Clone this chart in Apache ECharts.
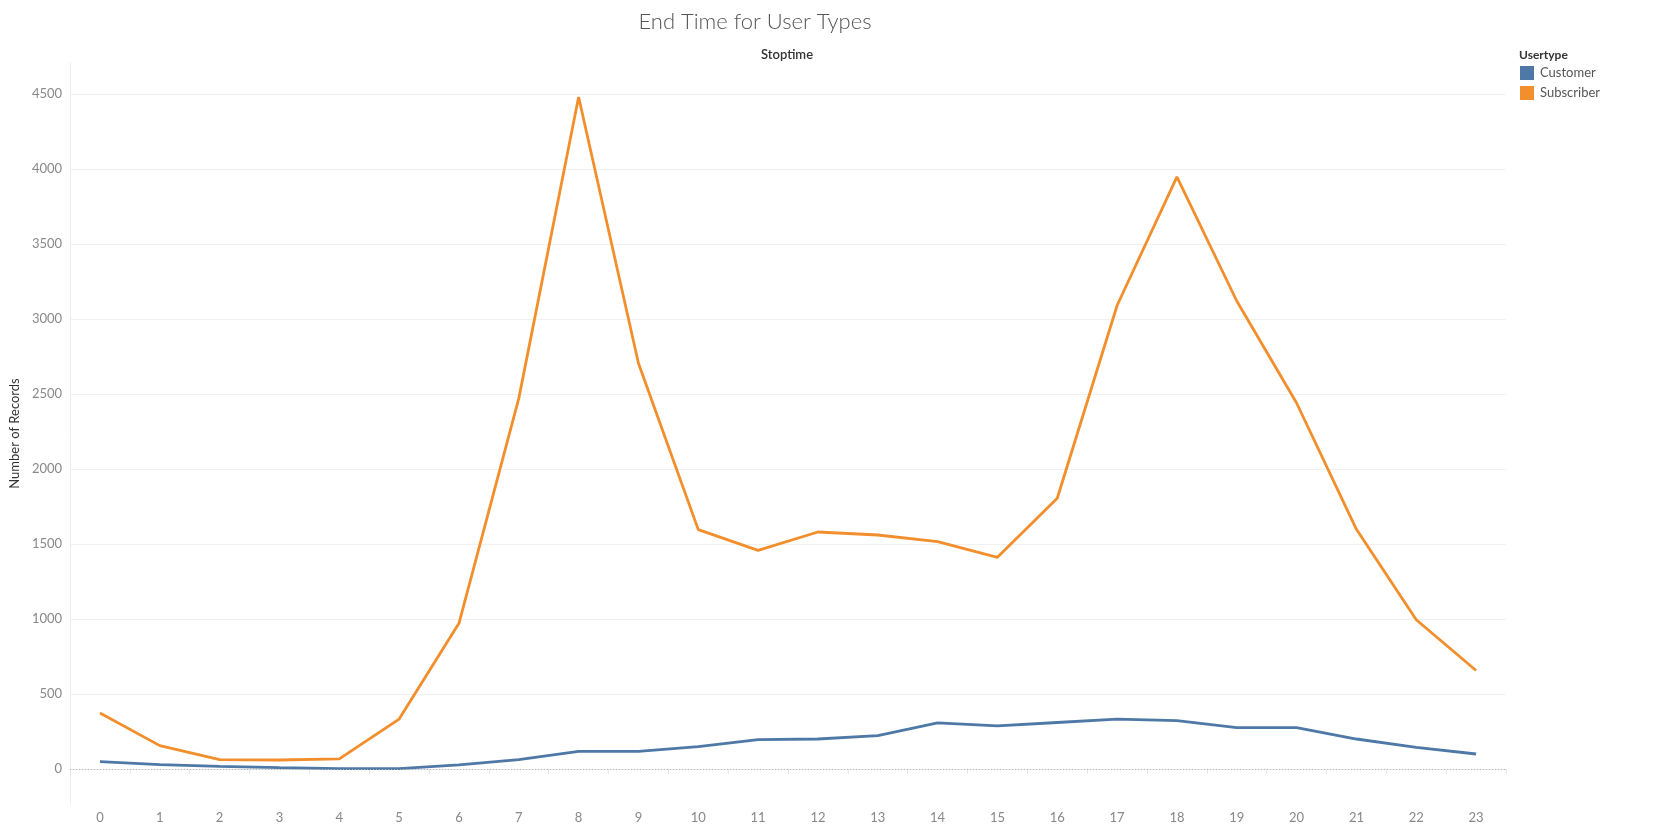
<!DOCTYPE html>
<html>
<head>
<meta charset="utf-8">
<script src="https://cdn.jsdelivr.net/npm/echarts@6/dist/echarts.min.js"></script>
<style>
html,body{margin:0;padding:0;background:#fff;}
#chart{width:1657px;height:826px;}
</style>
</head>
<body>
<div id="chart"></div>
<script>
const hours = ['0','1','2','3','4','5','6','7','8','9','10','11','12','13','14','15','16','17','18','19','20','21','22','23'];
const customer = [49,29,18,9,2,2,27,62,118,118,149,196,200,222,307,287,310,333,322,276,276,200,144,100];
const subscriber = [373,156,62,60,67,333,971,2471,4480,2705,1596,1458,1580,1560,1516,1411,1805,3090,3948,3120,2440,1598,995,657];
const yTicks = [0,500,1000,1500,2000,2500,3000,3500,4000,4500];

const FONT = 'Lato, "Open Sans", sans-serif';
const chart = echarts.init(document.getElementById('chart'));
chart.setOption({
  backgroundColor: '#fff',
  animation: false,
  title: [
    { text: 'End Time for User Types', left: 750, top: 6, textAlign: 'center',
      textStyle: { fontFamily: FONT, fontSize: 22, fontWeight: 300, color: '#555' } },
    { text: 'Stoptime', left: 782, top: 43, textAlign: 'center',
      textStyle: { fontFamily: FONT, fontSize: 13, fontWeight: 600, color: '#333' } },
    { text: 'Usertype', left: 1514, top: 44,
      textStyle: { fontFamily: FONT, fontSize: 12, fontWeight: 'bold', color: '#333' } }
  ],
  legend: {
    orient: 'vertical', left: 1515, top: 61, itemWidth: 14, itemHeight: 14, itemGap: 6,
    icon: 'rect',
    textStyle: { fontFamily: FONT, fontSize: 13, color: '#555', padding: [0,0,0,1] },
    data: ['Customer', 'Subscriber']
  },
  grid: { left: 65, right: 151, top: 63, bottom: 22, containLabel: false },
  xAxis: {
    type: 'category', data: hours, boundaryGap: true,
    axisLine: { show: true, lineStyle: { color: '#e8e8e8', width: 1 } },
    axisTick: { show: true, length: 5, lineStyle: { color: '#e8e8e8' } },
    axisLabel: { fontFamily: FONT, fontSize: 13, color: '#888', margin: 7 },
    splitLine: { show: false }
  },
  yAxis: {
    type: 'value', min: -233.3, max: 4706.7,
    name: 'Number of Records', nameLocation: 'middle', nameRotate: 90, nameGap: 47,
    nameTextStyle: { fontFamily: FONT, fontSize: 13, color: '#333' },
    axisLine: { show: true, lineStyle: { color: '#ececec', width: 1 } },
    axisTick: { show: false, customValues: yTicks },
    axisLabel: { fontFamily: FONT, fontSize: 13, color: '#888', margin: 8, customValues: yTicks,
      formatter: function (v) { return String(v); } },
    splitLine: { show: true, lineStyle: { color: '#f0f0f0', width: 1 } }
  },
  series: [
    { name: 'Customer', type: 'line', data: customer, symbol: 'none',
      lineStyle: { color: '#4e79a7', width: 2.8 }, itemStyle: { color: '#4e79a7' },
      markLine: { silent: true, symbol: 'none', label: { show: false },
        lineStyle: { color: '#b5b5b5', type: [1, 2], width: 1 },
        data: [{ yAxis: 0 }] }, z: 3 },
    { name: 'Subscriber', type: 'line', data: subscriber, symbol: 'none',
      lineStyle: { color: '#f28e2b', width: 2.8 }, itemStyle: { color: '#f28e2b' }, z: 4 }
  ]
});
</script>
</body>
</html>
